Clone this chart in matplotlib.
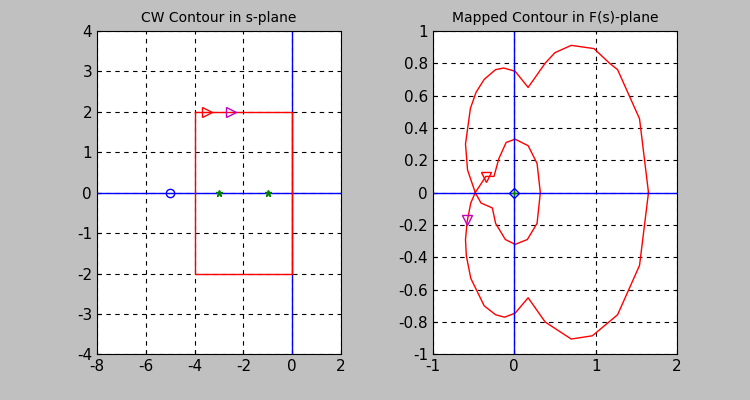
import matplotlib.pyplot as plt

plt.rcParams['axes.unicode_minus'] = False

# s-plane contour (clockwise rectangle)
contour_x = [-4, 0, 0, -4, -4]
contour_y = [2, 2, -2, -2, 2]
zero_s = [(-5, 0)]
poles_s = [(-3, 0), (-1, 0)]
dir_marks_s = [(-3.5, 2, 'r'), (-2.5, 2, 'm')]

# mapped contour
map_x = [1.65, 1.54, 1.27, 1.17, 0.98, 0.70, 0.50, 0.38, 0.17, 0.01, -0.13, -0.23,
         -0.37, -0.47, -0.54, -0.60, -0.575, -0.48,
         -0.35, -0.25, -0.19, -0.10, 0.01, 0.17, 0.28, 0.32,
         0.28, 0.16, 0.01, -0.11, -0.23, -0.27, -0.41, -0.48,
         -0.535, -0.58, -0.60, -0.59, -0.535, -0.37, -0.23, -0.12, 0.01, 0.17,
         0.38, 0.70, 0.96, 1.27, 1.54, 1.65]
map_y = [0, 0.456, 0.76, 0.80, 0.89, 0.91, 0.865, 0.80, 0.65, 0.75, 0.77, 0.76,
         0.70, 0.62, 0.52, 0.30, 0.14, 0,
         0.10, 0.10, 0.21, 0.31, 0.33, 0.29, 0.18, 0,
         -0.19, -0.29, -0.32, -0.29, -0.19, -0.095, -0.064, 0,
         -0.064, -0.18, -0.29, -0.39, -0.53, -0.70, -0.755, -0.77, -0.745, -0.65,
         -0.80, -0.905, -0.885, -0.755, -0.45, 0]
dir_marks_f = [(-0.35, 0.095, 'r'), (-0.58, -0.17, 'm')]

fig = plt.figure(figsize=(7.5, 4), dpi=100, facecolor='#c0c0c0')
ax1 = fig.add_axes([0.1293, 0.114, 0.3253, 0.809])
ax2 = fig.add_axes([0.5773, 0.114, 0.3253, 0.809])

for ax in (ax1, ax2):
    ax.grid(True, color='k', linestyle=(0, (4, 4)), linewidth=0.8)
    ax.tick_params(labelsize=11, direction='in', length=3)
    for sp in ax.spines.values():
        sp.set_linewidth(0.8)

ax1.axhline(0, color='b', lw=1)
ax1.axvline(0, color='b', lw=1)
ax1.plot(contour_x, contour_y, 'r', lw=1)
for x, y in zero_s:
    ax1.plot(x, y, 'bo', mfc='none', ms=6)
for x, y in poles_s:
    ax1.plot(x, y, 'g*', ms=5)
for x, y, c in dir_marks_s:
    ax1.plot(x, y, '>', color=c, mfc='none', ms=7)
ax1.set_xlim(-8, 2)
ax1.set_ylim(-4, 4)
ax1.set_xticks(range(-8, 3, 2))
ax1.set_yticks(range(-4, 5))
ax1.set_title('CW Contour in s-plane', fontsize=10)

ax2.plot(map_x, map_y, 'r', lw=1)
ax2.axhline(0, color='b', lw=1)
ax2.axvline(0, color='b', lw=1)
ax2.plot(0, 0, 'bD', mfc='none', ms=5)
ax2.plot(0, 0, 'g+', ms=5)
for x, y, c in dir_marks_f:
    ax2.plot(x, y, 'v', color=c, mfc='none', ms=7)
ax2.set_xlim(-1, 2)
ax2.set_ylim(-1, 1)
ax2.set_xticks([-1, 0, 1, 2])
yt = [round(-1 + 0.2 * i, 1) for i in range(11)]
ax2.set_yticks(yt)
ax2.set_yticklabels(['%g' % v for v in yt])
ax2.set_title('Mapped Contour in F(s)-plane', fontsize=10)

fig.savefig('out.png', dpi=100, facecolor=fig.get_facecolor())
